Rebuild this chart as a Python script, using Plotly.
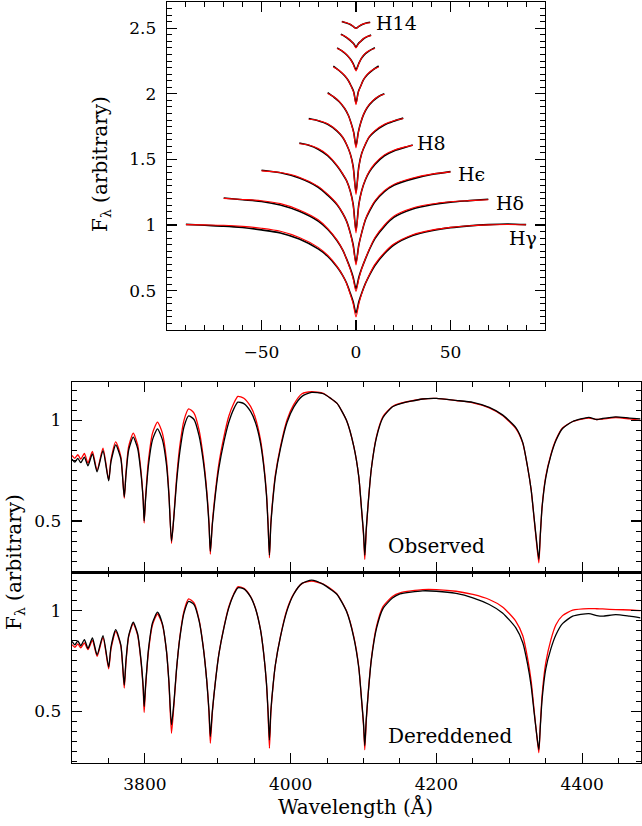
import plotly.graph_objects as go

FONT = "DejaVu Serif"

# ---------------- Top panel: Balmer line profiles (offset stacked) ----------------
HG_DX = [-90, -80, -70, -60, -50, -40, -30, -20, -15, -10, -7, -5, -3, -1.5, 0, 1.5, 3, 5, 7, 10, 15, 20, 30, 40, 50, 60, 70, 80, 90]
HG_RED = [1.003, 1.001, 0.998, 0.990, 0.975, 0.952, 0.905, 0.830, 0.770, 0.685, 0.615, 0.555, 0.470, 0.400, 0.300, 0.400, 0.475, 0.555, 0.620, 0.700, 0.790, 0.855, 0.926, 0.961, 0.982, 0.995, 1.001, 1.004, 1.002]
HG_BLK = [1.005, 0.998, 0.992, 0.981, 0.963, 0.940, 0.893, 0.818, 0.762, 0.680, 0.615, 0.558, 0.480, 0.415, 0.330, 0.415, 0.480, 0.555, 0.615, 0.692, 0.782, 0.848, 0.920, 0.957, 0.980, 0.994, 1.003, 1.008, 1.003]

HD_DX = [-70, -60, -50, -40, -30, -20, -15, -10, -7, -5, -3, -1.5, 0, 1.5, 3, 5, 7, 10, 15, 20, 30, 40, 50, 60, 70]
HD_RED = [1.203, 1.195, 1.185, 1.163, 1.115, 1.040, 0.975, 0.885, 0.810, 0.740, 0.660, 0.590, 0.495, 0.590, 0.665, 0.745, 0.815, 0.905, 1.000, 1.068, 1.130, 1.160, 1.177, 1.186, 1.193]
HD_BLK = [1.206, 1.193, 1.180, 1.153, 1.105, 1.030, 0.968, 0.880, 0.808, 0.742, 0.668, 0.602, 0.515, 0.602, 0.668, 0.742, 0.810, 0.897, 0.990, 1.058, 1.122, 1.155, 1.175, 1.186, 1.196]

HE_DX = [-50, -40, -30, -20, -15, -10, -7, -5, -3, -1.5, 0, 1.5, 3, 5, 7, 10, 15, 20, 30, 40, 50]
HE_RED = [1.413, 1.400, 1.365, 1.295, 1.235, 1.160, 1.090, 1.030, 0.935, 0.840, 0.695, 0.845, 0.940, 1.045, 1.110, 1.185, 1.262, 1.310, 1.358, 1.388, 1.405]
HE_BLK = [1.418, 1.398, 1.358, 1.288, 1.228, 1.155, 1.088, 1.030, 0.940, 0.850, 0.715, 0.850, 0.940, 1.040, 1.102, 1.178, 1.255, 1.303, 1.352, 1.385, 1.407]

H8_DX = [-30, -25, -20, -15, -10, -7, -5, -3, -1.5, 0, 1.5, 3, 5, 7, 10, 15, 20, 25, 30]
H8_RED = [1.620, 1.610, 1.583, 1.535, 1.455, 1.390, 1.340, 1.255, 1.150, 0.940, 1.150, 1.260, 1.350, 1.410, 1.470, 1.535, 1.570, 1.592, 1.607]
H8_BLK = [1.625, 1.608, 1.578, 1.528, 1.450, 1.387, 1.338, 1.258, 1.160, 0.960, 1.160, 1.262, 1.345, 1.403, 1.462, 1.528, 1.565, 1.588, 1.610]

H9_DX = [-25, -20, -15, -10, -7, -5, -3, -1.5, 0, 1.5, 3, 5, 7, 10, 15, 20, 25]
H9_RED = [1.806, 1.797, 1.772, 1.720, 1.670, 1.615, 1.540, 1.440, 1.232, 1.440, 1.545, 1.620, 1.675, 1.720, 1.768, 1.795, 1.812]
H9_BLK = [1.812, 1.795, 1.768, 1.716, 1.667, 1.614, 1.542, 1.448, 1.250, 1.448, 1.545, 1.616, 1.670, 1.714, 1.763, 1.792, 1.815]

H10_DX = [-15, -12, -9, -6, -4, -2.5, -1.2, 0, 1.2, 2.5, 4, 6, 9, 12, 15]
H10_RED = [2.003, 1.980, 1.945, 1.890, 1.835, 1.770, 1.700, 1.588, 1.700, 1.780, 1.845, 1.900, 1.950, 1.982, 1.997]
H10_BLK = [2.010, 1.978, 1.942, 1.888, 1.835, 1.773, 1.706, 1.605, 1.706, 1.780, 1.842, 1.896, 1.946, 1.980, 2.000]

H11_DX = [-12, -9, -6, -4, -2.5, -1.2, 0, 1.2, 2.5, 4, 6, 9, 12]
H11_RED = [2.205, 2.180, 2.140, 2.100, 2.055, 2.010, 1.918, 2.010, 2.060, 2.110, 2.150, 2.185, 2.205]
H11_BLK = [2.212, 2.178, 2.138, 2.100, 2.058, 2.015, 1.930, 2.015, 2.060, 2.108, 2.146, 2.183, 2.212]

H12_DX = [-10, -7, -5, -3, -1.5, 0, 1.5, 3, 5, 7, 10]
H12_RED = [2.345, 2.325, 2.300, 2.265, 2.225, 2.175, 2.230, 2.275, 2.310, 2.330, 2.345]
H12_BLK = [2.350, 2.322, 2.298, 2.265, 2.230, 2.185, 2.232, 2.273, 2.306, 2.328, 2.352]

H13_DX = [-8, -6, -4, -2.5, -1.2, 0, 1.2, 2.5, 4, 6, 8]
H13_RED = [2.451, 2.440, 2.420, 2.400, 2.380, 2.350, 2.380, 2.400, 2.422, 2.438, 2.444]
H13_BLK = [2.455, 2.438, 2.418, 2.400, 2.382, 2.356, 2.382, 2.400, 2.420, 2.436, 2.449]

H14_DX = [-7.5, -5, -3, -1.5, 0, 1.5, 3, 5, 7.5]
H14_RED = [2.549, 2.542, 2.530, 2.515, 2.498, 2.515, 2.528, 2.537, 2.542]
H14_BLK = [2.552, 2.540, 2.528, 2.514, 2.500, 2.514, 2.527, 2.538, 2.546]

LINE_LABELS = ["H14", "H8", "H\u03f5", "H\u03b4", "H\u03b3"]
LABEL_X = [21.6, 40.0, 61.0, 81.5, 88.5]
LABEL_Y = [2.542, 1.625, 1.392, 1.170, 0.900]

TOP_XTICKS = [-50, 0, 50]
TOP_YTICKS = [0.5, 1, 1.5, 2, 2.5]
BOT_XTICKS = [3800, 4000, 4200, 4400]
BOT_YTICKS = [0.5, 1]

# ---------------- Bottom panels: spectrum ----------------
WAVE = [3700, 3703.9, 3708, 3712, 3717, 3721.9, 3728, 3734.4, 3742.5, 3750.3,
        3753.5, 3760, 3767, 3771.7, 3774, 3777.7, 3784, 3790, 3794.5, 3797.7,
        3799, 3801, 3805, 3810.5, 3817.3, 3824, 3829.6, 3833, 3836.5, 3840,
        3843.3, 3847.8, 3853.8, 3860, 3867.4, 3874.3, 3880, 3884.8, 3888, 3889.8,
        3892.5, 3897, 3901.6, 3908.5, 3915, 3922, 3927.6, 3935.8, 3945, 3951.7,
        3958.6, 3963, 3966.8, 3969, 3970.9, 3972.8, 3976, 3979, 3986, 3995,
        4004, 4015.5, 4028.8, 4044.8, 4055, 4063.7, 4076.7, 4086.7, 4093.5, 4097.5,
        4100, 4101.7, 4103.7, 4106.2, 4110.7, 4117.7, 4126.7, 4139.7, 4150, 4181,
        4200, 4227, 4250, 4272.5, 4290.7, 4309, 4318.5, 4325, 4330, 4334.2,
        4337.4, 4340.5, 4342.5, 4345, 4350, 4357, 4364, 4373, 4387, 4409,
        4420, 4428, 4446, 4465, 4480]

OBS_RED = [0.826, 0.812, 0.830, 0.808, 0.836, 0.788, 0.846, 0.752, 0.862, 0.705,
           0.805, 0.894, 0.820, 0.613, 0.737, 0.870, 0.937, 0.880, 0.754, 0.605,
           0.490, 0.620, 0.804, 0.937, 0.992, 0.937, 0.804, 0.638, 0.389, 0.538,
           0.704, 0.870, 1.003, 1.058, 1.037, 0.953, 0.820, 0.654, 0.488, 0.335,
           0.488, 0.654, 0.787, 0.920, 1.020, 1.086, 1.120, 1.111, 1.070, 1.012,
           0.905, 0.787, 0.638, 0.488, 0.317, 0.490, 0.630, 0.730, 0.870, 1.003,
           1.078, 1.133, 1.143, 1.135, 1.110, 1.085, 1.000, 0.870, 0.720, 0.545,
           0.430, 0.309, 0.450, 0.580, 0.760, 0.920, 1.020, 1.070, 1.085, 1.107,
           1.110, 1.099, 1.088, 1.063, 1.025, 0.960, 0.887, 0.770, 0.655, 0.506,
           0.390, 0.292, 0.424, 0.573, 0.722, 0.830, 0.905, 0.963, 0.995, 1.012,
           1.005, 1.007, 1.015, 1.008, 1.000]

OBS_BLK = [0.808, 0.793, 0.812, 0.790, 0.818, 0.775, 0.834, 0.745, 0.850, 0.700,
           0.795, 0.879, 0.810, 0.620, 0.725, 0.852, 0.917, 0.862, 0.740, 0.600,
           0.500, 0.610, 0.780, 0.905, 0.958, 0.905, 0.780, 0.625, 0.400, 0.530,
           0.685, 0.840, 0.970, 1.023, 1.005, 0.925, 0.800, 0.640, 0.480, 0.350,
           0.480, 0.640, 0.765, 0.895, 0.990, 1.058, 1.091, 1.084, 1.045, 0.990,
           0.888, 0.775, 0.630, 0.480, 0.330, 0.480, 0.620, 0.720, 0.860, 0.990,
           1.065, 1.120, 1.140, 1.133, 1.110, 1.085, 1.000, 0.870, 0.720, 0.550,
           0.440, 0.330, 0.460, 0.580, 0.760, 0.915, 1.015, 1.068, 1.083, 1.107,
           1.110, 1.100, 1.090, 1.065, 1.028, 0.965, 0.890, 0.770, 0.655, 0.510,
           0.400, 0.310, 0.430, 0.570, 0.715, 0.825, 0.900, 0.960, 0.995, 1.016,
           1.005, 1.010, 1.018, 1.012, 1.008]

DER_RED = [0.831, 0.818, 0.835, 0.815, 0.840, 0.806, 0.852, 0.773, 0.867, 0.711,
           0.810, 0.897, 0.825, 0.615, 0.740, 0.870, 0.935, 0.878, 0.752, 0.607,
           0.494, 0.620, 0.800, 0.930, 0.983, 0.930, 0.800, 0.640, 0.391, 0.540,
           0.700, 0.865, 1.000, 1.058, 1.038, 0.955, 0.822, 0.656, 0.490, 0.342,
           0.490, 0.656, 0.787, 0.918, 1.018, 1.084, 1.118, 1.110, 1.070, 1.012,
           0.905, 0.787, 0.638, 0.488, 0.317, 0.490, 0.630, 0.730, 0.872, 1.006,
           1.082, 1.134, 1.146, 1.132, 1.108, 1.082, 0.998, 0.870, 0.720, 0.545,
           0.430, 0.309, 0.450, 0.580, 0.760, 0.920, 1.020, 1.070, 1.088, 1.104,
           1.104, 1.096, 1.080, 1.055, 1.018, 0.947, 0.875, 0.765, 0.650, 0.500,
           0.390, 0.295, 0.430, 0.580, 0.740, 0.855, 0.930, 0.975, 1.002, 1.010,
           1.009, 1.008, 1.005, 1.003, 1.000]

DER_BLK = [0.847, 0.830, 0.850, 0.825, 0.856, 0.812, 0.864, 0.780, 0.876, 0.720,
           0.820, 0.905, 0.830, 0.630, 0.750, 0.875, 0.942, 0.885, 0.760, 0.620,
           0.524, 0.630, 0.810, 0.940, 0.992, 0.935, 0.800, 0.645, 0.433, 0.550,
           0.705, 0.860, 0.990, 1.046, 1.030, 0.950, 0.820, 0.655, 0.500, 0.375,
           0.500, 0.655, 0.785, 0.915, 1.012, 1.080, 1.113, 1.108, 1.068, 1.010,
           0.905, 0.787, 0.640, 0.500, 0.358, 0.500, 0.635, 0.730, 0.870, 1.000,
           1.080, 1.135, 1.151, 1.130, 1.105, 1.080, 0.995, 0.865, 0.715, 0.550,
           0.440, 0.330, 0.460, 0.580, 0.755, 0.910, 1.010, 1.062, 1.083, 1.098,
           1.096, 1.085, 1.063, 1.030, 0.988, 0.914, 0.840, 0.735, 0.625, 0.490,
           0.390, 0.310, 0.420, 0.560, 0.710, 0.810, 0.880, 0.935, 0.972, 0.985,
           0.975, 0.972, 0.980, 0.972, 0.964]

PANEL_LABELS = ["Observed", "Dereddened"]

# ---------------- Figure ----------------
W, H = 642, 826


def px_x(p):
    return p / W


def px_y(p):
    return 1 - p / H


fig = go.Figure()

top_lines = [
    (HG_DX, HG_RED, HG_BLK), (HD_DX, HD_RED, HD_BLK), (HE_DX, HE_RED, HE_BLK),
    (H8_DX, H8_RED, H8_BLK), (H9_DX, H9_RED, H9_BLK), (H10_DX, H10_RED, H10_BLK),
    (H11_DX, H11_RED, H11_BLK), (H12_DX, H12_RED, H12_BLK), (H13_DX, H13_RED, H13_BLK),
    (H14_DX, H14_RED, H14_BLK),
]
for dx, red, blk in top_lines:
    fig.add_trace(go.Scatter(x=dx, y=blk, mode="lines", line=dict(color="black", width=1.6, shape="spline", smoothing=0.8),
                             xaxis="x", yaxis="y", showlegend=False, hoverinfo="skip"))
for dx, red, blk in top_lines:
    fig.add_trace(go.Scatter(x=dx, y=red, mode="lines", line=dict(color="red", width=1.1, shape="spline", smoothing=0.8),
                             xaxis="x", yaxis="y", showlegend=False, hoverinfo="skip"))

for red, blk, ya, xa in [(OBS_RED, OBS_BLK, "y2", "x2"), (DER_RED, DER_BLK, "y3", "x3")]:
    fig.add_trace(go.Scatter(x=WAVE, y=red, mode="lines", line=dict(color="red", width=1.3, shape="spline", smoothing=0.6),
                             xaxis=xa, yaxis=ya, showlegend=False, hoverinfo="skip"))
    fig.add_trace(go.Scatter(x=WAVE, y=blk, mode="lines", line=dict(color="black", width=1.3, shape="spline", smoothing=0.6),
                             xaxis=xa, yaxis=ya, showlegend=False, hoverinfo="skip"))


def axis(**kw):
    base = dict(showline=True, linecolor="black", linewidth=1.3, mirror="allticks",
                ticks="inside", ticklen=10, tickwidth=1.1, tickcolor="black",
                showgrid=False, zeroline=False, automargin=False,
                tickfont=dict(family=FONT, size=17, color="black"),
                ticklabelstandoff=6)
    base.update(kw)
    return base


minor_base = dict(ticks="inside", ticklen=5, tickwidth=1.0, tickcolor="black", showgrid=False)

fig.update_layout(
    width=W, height=H,
    margin=dict(l=0, r=0, t=0, b=0, autoexpand=False),
    font=dict(family=FONT, color="black"),
    paper_bgcolor="white", plot_bgcolor="white",
    xaxis=axis(domain=[px_x(167), px_x(545)], range=[-100, 100], anchor="y",
               tickmode="array", tickvals=TOP_XTICKS, ticktext=["\u221250", "0", "50"],
               minor=dict(minor_base, tickmode="linear", tick0=0, dtick=10)),
    yaxis=axis(domain=[px_y(330), px_y(2)], range=[0.2, 2.7], anchor="x",
               tickmode="array", tickvals=TOP_YTICKS, ticktext=["0.5", "1", "1.5", "2", "2.5"],
               minor=dict(minor_base, tickmode="linear", tick0=0, dtick=0.05)),
    xaxis2=axis(domain=[px_x(72), px_x(640.5)], range=[3700, 4480], anchor="y2",
                tickmode="array", tickvals=BOT_XTICKS, showticklabels=False, matches="x3",
                minor=dict(minor_base, tickmode="linear", tick0=3700, dtick=50)),
    yaxis2=axis(domain=[px_y(572.3), px_y(382.3)], range=[0.245, 1.19], anchor="x2",
                tickmode="array", tickvals=BOT_YTICKS, ticktext=["0.5", "1"],
                minor=dict(minor_base, tickmode="linear", tick0=0, dtick=0.05)),
    xaxis3=axis(domain=[px_x(72), px_x(640.5)], range=[3700, 4480], anchor="y3",
                tickmode="array", tickvals=BOT_XTICKS, ticktext=[str(v) for v in BOT_XTICKS],
                minor=dict(minor_base, tickmode="linear", tick0=3700, dtick=50)),
    yaxis3=axis(domain=[px_y(762.7), px_y(572.3)], range=[0.245, 1.19], anchor="x3",
                tickmode="array", tickvals=BOT_YTICKS, ticktext=["0.5", "1"],
                minor=dict(minor_base, tickmode="linear", tick0=0, dtick=0.05)),
)

ann = []
for t, x, y in zip(LINE_LABELS, LABEL_X, LABEL_Y):
    ann.append(dict(text=t, x=x, y=y, xref="x", yref="y", showarrow=False,
                    xanchor="center", yanchor="middle",
                    font=dict(family=FONT, size=19, color="black")))
ann.append(dict(text=PANEL_LABELS[0], x=4131, y=0.377, xref="x2", yref="y2", showarrow=False,
                xanchor="left", yanchor="middle", font=dict(family=FONT, size=20, color="black")))
ann.append(dict(text=PANEL_LABELS[1], x=4131, y=0.38, xref="x3", yref="y3", showarrow=False,
                xanchor="left", yanchor="middle", font=dict(family=FONT, size=20, color="black")))
ann.append(dict(text="F<sub>\u03bb</sub> (arbitrary)", x=px_x(101), y=px_y(164), xref="paper", yref="paper",
                showarrow=False, textangle=-90, xanchor="center", yanchor="middle",
                font=dict(family=FONT, size=20, color="black")))
ann.append(dict(text="F<sub>\u03bb</sub> (arbitrary)", x=px_x(15), y=px_y(562), xref="paper", yref="paper",
                showarrow=False, textangle=-90, xanchor="center", yanchor="middle",
                font=dict(family=FONT, size=20, color="black")))
ann.append(dict(text="Wavelength (\u00c5)", x=px_x(356), y=px_y(806), xref="paper", yref="paper",
                showarrow=False, xanchor="center", yanchor="middle",
                font=dict(family=FONT, size=20, color="black")))
fig.update_layout(annotations=ann)

fig.write_html("out.html",
               config={"displayModeBar": False, "staticPlot": True},
               post_script="document.body.style.margin='0';document.body.style.overflow='hidden';")
